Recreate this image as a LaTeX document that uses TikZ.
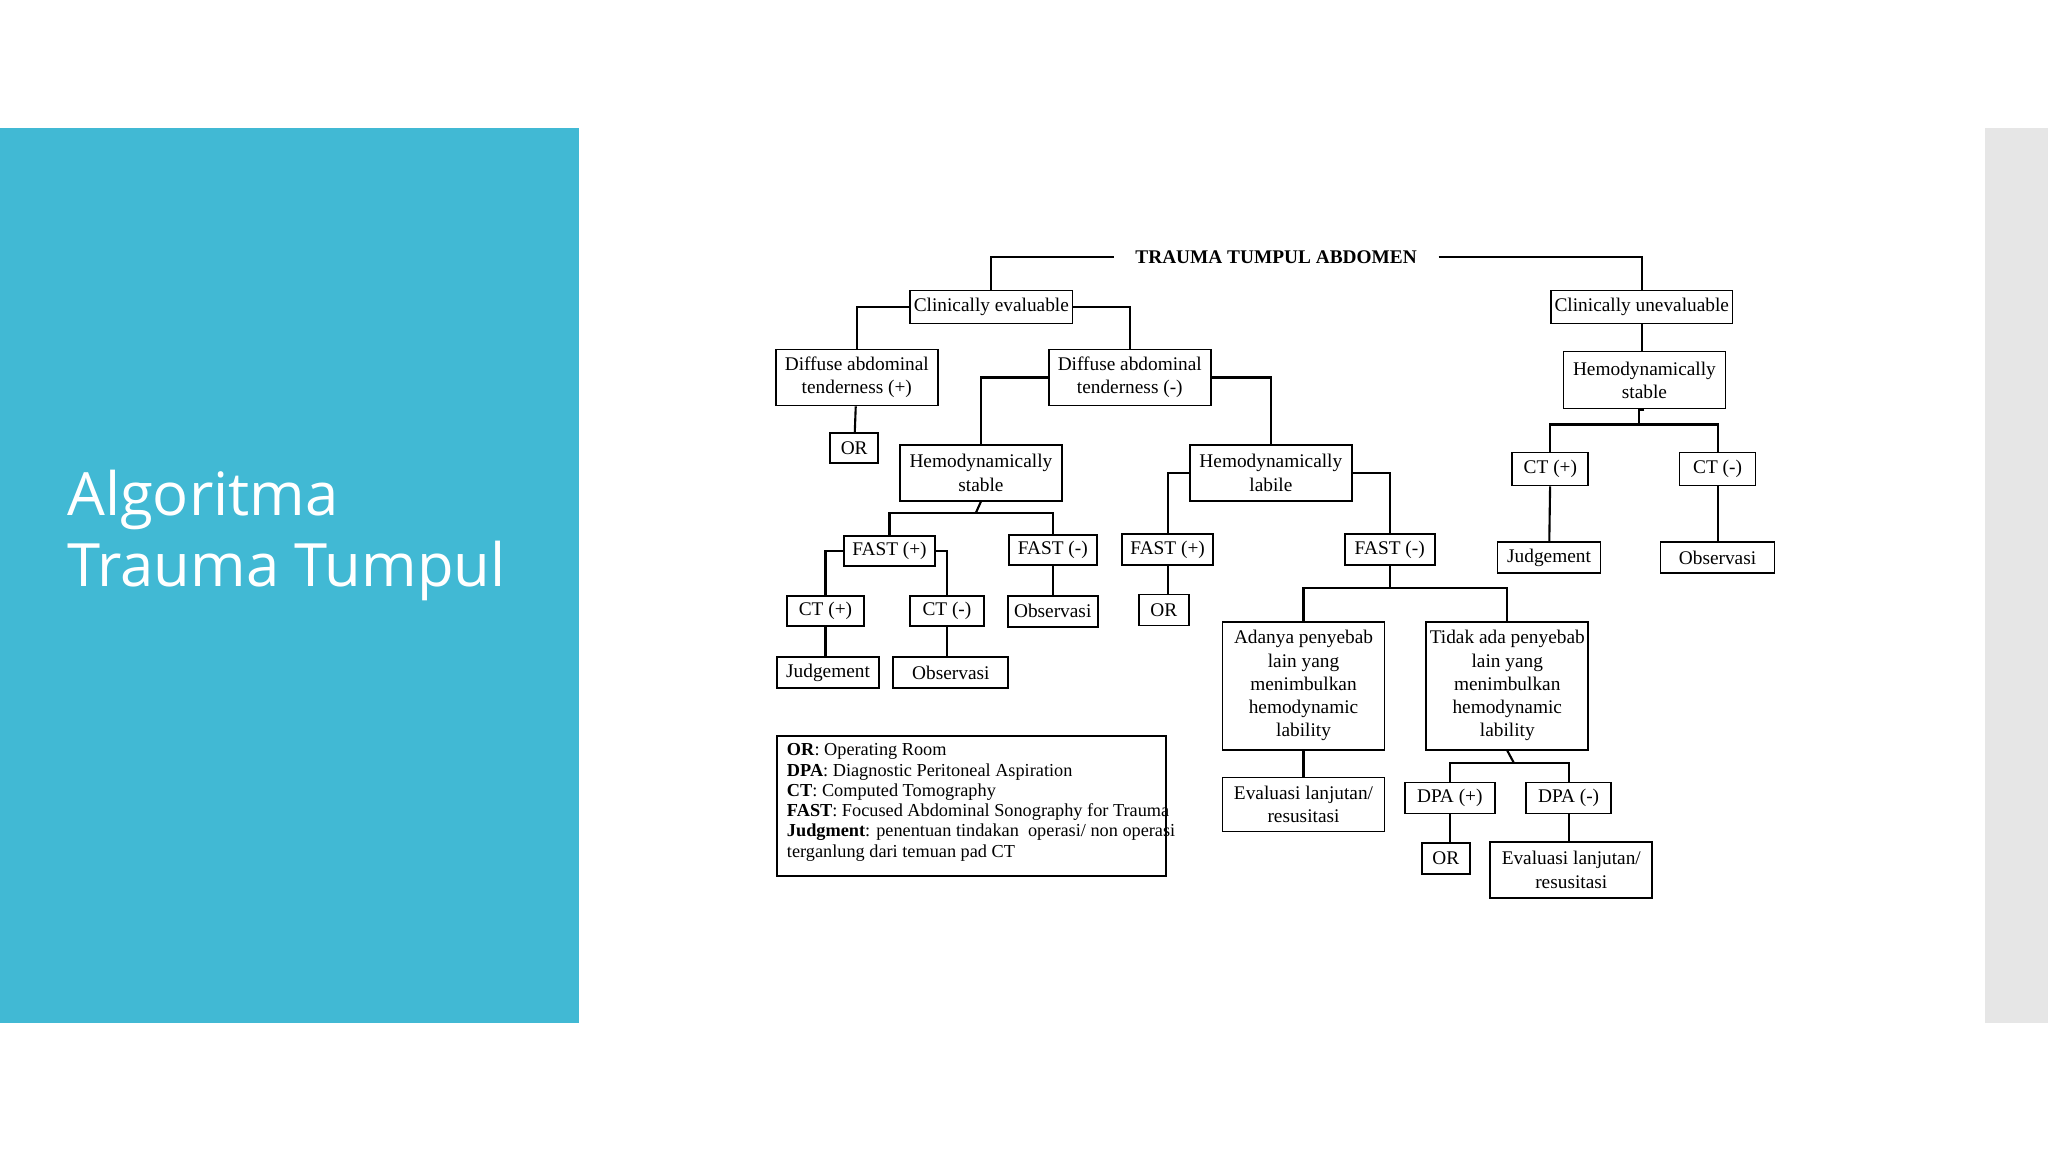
\documentclass[tikz,border=0pt]{standalone}
\usepackage{fontspec}
\setmainfont{Liberation Serif}
\newfontfamily\slidefont{Open Sans}
\usepackage{xcolor}
\definecolor{slideblue}{HTML}{41B9D4}
\definecolor{slidegray}{HTML}{E6E6E6}
\usetikzlibrary{positioning, calc}

\begin{document}
\begin{tikzpicture}[
    x=0.01306cm, y=-0.01306cm,
    box/.style={rectangle, draw, line width=0.5pt, align=center, inner sep=1pt, font=\fontsize{5.5}{6.6}\selectfont},
    line/.style={line width=0.6pt}
]
\useasboundingbox (0,0) rectangle (1568,882);
\fill[slideblue] (0,98) rectangle (443,783);
\fill[slidegray] (1520,98) rectangle (1568,783);
\node[anchor=west, text=white, align=left, font=\slidefont\fontsize{17}{20}\selectfont] (heading) at (42,410) {Algoritma\\Trauma Tumpul};

% top level
\node[font=\fontsize{5.5}{6.6}\selectfont\bfseries, inner sep=6pt] (ttl) at (977,197) {TRAUMA TUMPUL ABDOMEN};
\node[box, minimum width=1.62cm, minimum height=0.33cm] (ce) at (759,235) {Clinically evaluable};
\node[box, minimum width=1.80cm, minimum height=0.33cm] (cu) at (1257,235) {Clinically unevaluable};
\node[box, minimum width=1.62cm, minimum height=0.56cm] (dtp) at (656,289) {Diffuse abdominal\\tenderness (+)};
\node[box, minimum width=1.62cm, minimum height=0.56cm] (dtm) at (865,289) {Diffuse abdominal\\tenderness (-)};
\node[box, minimum width=0.48cm, minimum height=0.30cm] (or1) at (654,343) {OR};
\node[box, minimum width=1.62cm, minimum height=0.56cm] (hs1) at (751,362) {Hemodynamically\\stable};
\node[box, minimum width=1.62cm, minimum height=0.56cm] (hl) at (973,362) {Hemodynamically\\labile};

% stable branch
\node[box, minimum width=0.91cm, minimum height=0.30cm] (f1p) at (681,422) {FAST (+)};
\node[box, minimum width=0.88cm, minimum height=0.30cm] (f1m) at (806,421) {FAST (-)};
\node[box, minimum width=0.77cm, minimum height=0.30cm] (ct1p) at (632,468) {CT (+)};
\node[box, minimum width=0.74cm, minimum height=0.30cm] (ct1m) at (725,468) {CT (-)};
\node[box, minimum width=0.90cm, minimum height=0.31cm] (obs1) at (806,468) {Observasi};
\node[box, minimum width=1.02cm, minimum height=0.31cm] (jd1) at (634,515) {Judgement};
\node[box, minimum width=1.15cm, minimum height=0.31cm] (obs2) at (728,515) {Observasi};

% labile branch
\node[box, minimum width=0.91cm, minimum height=0.31cm] (f2p) at (894,421) {FAST (+)};
\node[box, minimum width=0.50cm, minimum height=0.31cm] (or2) at (891,467) {OR};
\node[box, minimum width=0.90cm, minimum height=0.31cm] (f2m) at (1064,421) {FAST (-)};
\node[box, minimum width=1.62cm, minimum height=1.28cm] (ad) at (998,525) {Adanya penyebab\\lain yang\\menimbulkan\\hemodynamic\\lability};
\node[box, minimum width=1.62cm, minimum height=1.28cm] (td) at (1154,525) {Tidak ada penyebab\\lain yang\\menimbulkan\\hemodynamic\\lability};
\node[box, minimum width=1.62cm, minimum height=0.54cm] (ev1) at (998,616) {Evaluasi lanjutan/\\resusitasi};
\node[box, minimum width=0.90cm, minimum height=0.31cm] (dp) at (1110,611) {DPA (+)};
\node[box, minimum width=0.85cm, minimum height=0.31cm] (dm) at (1201,611) {DPA (-)};
\node[box, minimum width=0.48cm, minimum height=0.31cm] (or3) at (1107,657) {OR};
\node[box, minimum width=1.62cm, minimum height=0.56cm] (ev2) at (1203,666) {Evaluasi lanjutan/\\resusitasi};

% unevaluable branch
\node[box, minimum width=1.62cm, minimum height=0.57cm] (hs2) at (1259,291) {Hemodynamically\\stable};
\node[box, minimum width=0.76cm, minimum height=0.33cm] (ct2p) at (1187,359) {CT (+)};
\node[box, minimum width=0.76cm, minimum height=0.33cm] (ct2m) at (1315,359) {CT (-)};
\node[box, minimum width=1.03cm, minimum height=0.31cm] (jd2) at (1186,427) {Judgement};
\node[box, minimum width=1.14cm, minimum height=0.31cm] (obs3) at (1315,427) {Observasi};

% legend
\node[draw, line width=0.5pt, anchor=north west, minimum width=3.89cm, minimum height=1.40cm, inner sep=0pt] (lgd) at (594,563) {};
\node[anchor=north west, align=left, inner sep=0pt, font=\fontsize{5.2}{5.75}\selectfont] (lgdtxt) at (602,569)
  {\textbf{OR}: Operating Room\\\textbf{DPA}: Diagnostic Peritoneal Aspiration\\\textbf{CT}: Computed Tomography\\\textbf{FAST}: Focused Abdominal Sonography for Trauma\\\textbf{Judgment}: penentuan tindakan\ \ operasi/ non operasi\\terganlung dari temuan pad CT};

\coordinate (j1) at (747,393);
\coordinate (j2) at (1064,450);
\coordinate (j3) at (1159,584);
\coordinate (j4) at (1255,325);

\draw[line] (ttl.west) -| (ce.north);
\draw[line] (ttl.east) -| (cu.north);
\draw[line] (ce.west) -| (dtp.north);
\draw[line] (ce.east) -| (dtm.north);
\draw[line] (dtp) -- (or1);
\draw[line] (dtm.west) -| (hs1.north);
\draw[line] (dtm.east) -| (hl.north);
\draw[line] (hs1.south) -- (j1);
\draw[line] (f1p.north) |- (j1) -| (f1m.north);
\draw[line] (f1p.west) -| (ct1p.north);
\draw[line] (f1p.east) -| (ct1m.north);
\draw[line] (f1m) -- (obs1);
\draw[line] (ct1p.south) -- (ct1p.south |- jd1.north);
\draw[line] (ct1m.south) -- (ct1m.south |- obs2.north);
\draw[line] (hl.west) -| (f2p.north);
\draw[line] (hl.east) -| (f2m.north);
\draw[line] (f2p.south) -- (f2p.south |- or2.north);
\draw[line] (f2m.south) -- (j2);
\draw[line] (ad.north) |- (j2) -| (td.north);
\draw[line] (ad) -- (ev1);
\draw[line] (td.south) -- (j3);
\draw[line] (dp.north) |- (j3) -| (dm.north);
\draw[line] (dp.south) -- (dp.south |- or3.north);
\draw[line] (dm.south) -- (dm.south |- ev2.north);
\draw[line] (cu.south) -- (cu.south |- hs2.north);
\draw[line] (hs2.south) -- (hs2.south -| j4) -- (j4);
\draw[line] (ct2p.north) |- (j4) -| (ct2m.north);
\draw[line] (ct2p) -- (jd2);
\draw[line] (ct2m) -- (obs3);

\end{tikzpicture}
\end{document}
